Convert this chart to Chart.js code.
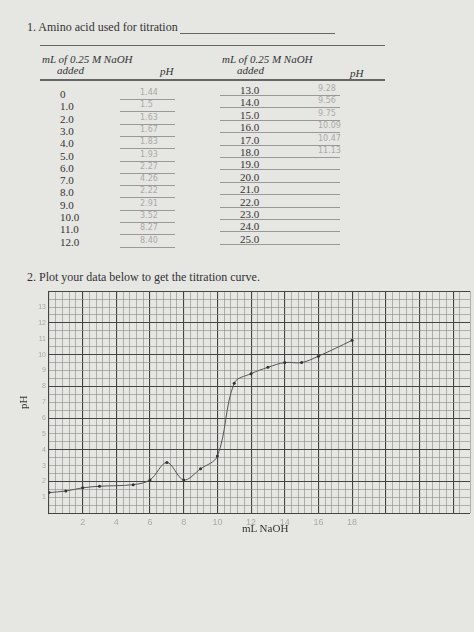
<!DOCTYPE html>
<html lang="en">
<head>
<meta charset="UTF-8">
<title>Titration curve</title>
<script src="https://cdn.jsdelivr.net/npm/chart.js"></script>
<style>
    body { margin: 0; width: 474px; height: 632px; background: #e6e6e3; font-family: "Liberation Serif", serif; color: #333; position: relative; overflow: hidden; }
    .abs { position: absolute; white-space: nowrap; }
    .hd { font-style: italic; font-size: 11px; line-height: 11px; }
    .num { font-size: 11px; }
    .hw { font-family: "DejaVu Sans", sans-serif; font-size: 8px; color: #aaa; }
    .rule { position: absolute; background: #666; }
    .pen { position: absolute; height: 1px; background: #999; }
    #wrap { position: absolute; left: 14px; top: 284px; width: 460px; height: 248px; }
</style>
</head>
<body>
    <div class="abs" style="left:27px;top:20px;font-size:12px">1. Amino acid used for titration</div>
    <div class="rule" style="left:180px;top:33px;width:155px;height:1px"></div>
    <div class="rule" style="left:40px;top:45px;width:345px;height:1px"></div>
    <div class="abs hd" style="left:42px;top:54px">mL of 0.25 M NaOH</div>
    <div class="abs hd" style="left:57px;top:65px">added</div>
    <div class="abs hd" style="left:160px;top:66px">pH</div>
    <div class="abs hd" style="left:222px;top:54px">mL of 0.25 M NaOH</div>
    <div class="abs hd" style="left:237px;top:65px">added</div>
    <div class="abs hd" style="left:350px;top:68px">pH</div>
    <div class="rule" style="left:40px;top:79px;width:345px;height:2px"></div>
    <div id="table"></div>
    <div class="abs" style="left:27px;top:270px;font-size:12px">2. Plot your data below to get the titration curve.</div>
    <div id="wrap"><canvas id="chart"></canvas></div>
    <div class="abs" style="left:242px;top:522px;font-size:11px">mL NaOH</div>

<script>
// handwritten table entries
const leftMl = ['0', '1.0', '2.0', '3.0', '4.0', '5.0', '6.0', '7.0', '8.0', '9.0', '10.0', '11.0', '12.0'];
const leftPh = ['1.44', '1.5', '1.63', '1.67', '1.83', '1.93', '2.27', '4.26', '2.22', '2.91', '3.52', '8.27', '8.40'];
const rightMl = ['13.0', '14.0', '15.0', '16.0', '17.0', '18.0', '19.0', '20.0', '21.0', '22.0', '23.0', '24.0', '25.0'];
const rightPh = ['9.28', '9.56', '9.75', '10.09', '10.47', '11.13'];

// points as plotted on the graph paper
const volumes = [0, 1, 2, 3, 5, 6, 7, 8, 9, 10, 11, 12, 13, 14, 15, 16, 18];
const phValues = [1.3, 1.4, 1.6, 1.7, 1.8, 2.1, 3.2, 2.1, 2.8, 3.6, 8.2, 8.8, 9.2, 9.5, 9.5, 9.9, 10.9];
const xLabels = [2, 4, 6, 8, 10, 12, 14, 16, 18];

const table = document.getElementById('table');
let html = '';
leftMl.forEach((v, i) => {
    const y = 88 + i * 12.3;
    html += `<div class="abs num" style="left:60px;top:${y}px">${v}</div>`;
    html += `<div class="abs hw" style="left:140px;top:${y}px">${leftPh[i]}</div>`;
    html += `<div class="pen" style="left:120px;top:${y + 11}px;width:55px"></div>`;
});
rightMl.forEach((v, i) => {
    const y = 84 + i * 12.4;
    html += `<div class="abs num" style="left:240px;top:${y}px">${v}</div>`;
    if (rightPh[i]) html += `<div class="abs hw" style="left:318px;top:${y}px">${rightPh[i]}</div>`;
    html += `<div class="pen" style="left:220px;top:${y + 11}px;width:120px"></div>`;
});
table.innerHTML = html;

// heavier line every 2 units
const gridColor = ctx => {
    const v = Math.round(ctx.tick.value * 10);
    return v % 20 === 0 ? '#444' : '#888';
};
const gridWidth = ctx => (Math.round(ctx.tick.value * 10) % 20 === 0 ? 1.1 : 0.6);

new Chart(document.getElementById('chart'), {
    type: 'line',
    data: {
        datasets: [{
            data: volumes.map((x, i) => ({ x: x, y: phValues[i] })),
            borderColor: '#555',
            borderWidth: 1,
            pointRadius: 1.5,
            pointBackgroundColor: '#333',
            pointBorderWidth: 0,
            tension: 0.35
        }]
    },
    options: {
        responsive: true,
        maintainAspectRatio: false,
        animation: false,
        plugins: { legend: { display: false }, tooltip: { enabled: false } },
        scales: {
            x: {
                type: 'linear', min: 0, max: 25,
                grid: { color: gridColor, lineWidth: gridWidth, drawTicks: false },
                border: { color: '#444' },
                ticks: {
                    stepSize: 0.4, autoSkip: false, maxRotation: 0, color: '#aaa',
                    font: { size: 9 }, padding: 4,
                    callback: v => {
                        const r = Math.round(v * 10) / 10;
                        return Number.isInteger(r) && xLabels.includes(r) ? String(r) : '';
                    }
                }
            },
            y: {
                min: 0, max: 14,
                grid: { color: gridColor, lineWidth: gridWidth, drawTicks: false },
                border: { color: '#444' },
                title: { display: true, text: 'pH', color: '#333', font: { family: 'Liberation Serif', size: 11 } },
                ticks: {
                    stepSize: 0.5, autoSkip: false, color: '#aaa', font: { size: 7 }, padding: 3,
                    callback: v => {
                        const r = Math.round(v * 10) / 10;
                        return Number.isInteger(r) && r >= 1 && r <= 13 ? String(r) : '';
                    }
                }
            }
        }
    }
});
</script>
</body>
</html>
